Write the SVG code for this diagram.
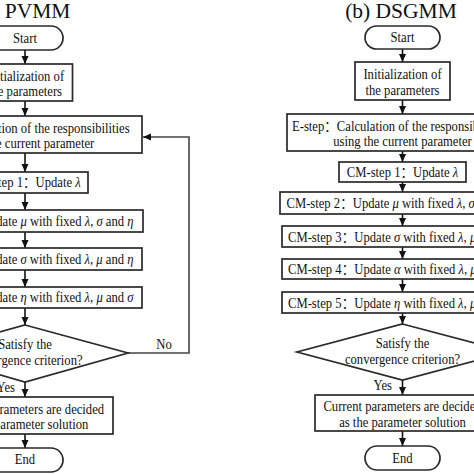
<svg xmlns="http://www.w3.org/2000/svg" width="474" height="474" viewBox="0 0 474 474">
<style>
.bg{fill:#ffffff}
.box{fill:#ffffff;stroke:#2a2a2a;stroke-width:1.7}
.t{font-family:"Liberation Serif","Noto Sans CJK SC",serif;font-size:14.2px;fill:#111;text-anchor:middle}
.title{font-family:"Liberation Serif",serif;font-size:21.5px;fill:#111;text-anchor:middle}
.i{font-style:italic}
.con{fill:none;stroke:#111;stroke-width:1.6}
.fb{fill:none;stroke:#444;stroke-width:1.6}
</style>
<defs>
<marker id="ah" markerUnits="userSpaceOnUse" markerWidth="8" markerHeight="8" viewBox="0 0 8 8" refX="8" refY="4" orient="auto">
<path d="M0,0.5 L8,4 L0,7.5 z" fill="#111"/>
</marker>
</defs>
<rect class="bg" x="0" y="0" width="474" height="474"/>

<g id="title-a"><text class="title" x="23" y="18">(a) PVMM</text></g>
<g id="title-b"><text class="title" x="401" y="18">(b) DSGMM</text></g>

<g id="connectors">
<line class="con" x1="25" y1="50" x2="25" y2="64" marker-end="url(#ah)"/>
<line class="con" x1="25" y1="101" x2="25" y2="116" marker-end="url(#ah)"/>
<line class="con" x1="25" y1="153" x2="25" y2="172" marker-end="url(#ah)"/>
<line class="con" x1="25" y1="193" x2="25" y2="210" marker-end="url(#ah)"/>
<line class="con" x1="25" y1="232" x2="25" y2="248" marker-end="url(#ah)"/>
<line class="con" x1="25" y1="270" x2="25" y2="287" marker-end="url(#ah)"/>
<line class="con" x1="25" y1="308" x2="25" y2="325" marker-end="url(#ah)"/>
<line class="con" x1="25" y1="382" x2="25" y2="397" marker-end="url(#ah)"/>
<line class="con" x1="25" y1="434" x2="25" y2="448" marker-end="url(#ah)"/>
<polyline class="fb" points="128,353 189,353 189,137 143,137" marker-end="url(#ah)"/>
<text class="t" transform="translate(164,349) scale(0.89,1)">No</text>
<text class="t" transform="translate(15,392) scale(0.89,1)" style="text-anchor:end">Yes</text>

<line class="con" x1="402.5" y1="49" x2="402.5" y2="62" marker-end="url(#ah)"/>
<line class="con" x1="402.5" y1="100" x2="402.5" y2="114" marker-end="url(#ah)"/>
<line class="con" x1="402.5" y1="151" x2="402.5" y2="162" marker-end="url(#ah)"/>
<line class="con" x1="402.5" y1="182" x2="402.5" y2="192" marker-end="url(#ah)"/>
<line class="con" x1="402.5" y1="214" x2="402.5" y2="226" marker-end="url(#ah)"/>
<line class="con" x1="402.5" y1="247" x2="402.5" y2="259" marker-end="url(#ah)"/>
<line class="con" x1="402.5" y1="279" x2="402.5" y2="292" marker-end="url(#ah)"/>
<line class="con" x1="402.5" y1="313" x2="402.5" y2="324" marker-end="url(#ah)"/>
<line class="con" x1="402.5" y1="380" x2="402.5" y2="395" marker-end="url(#ah)"/>
<line class="con" x1="402.5" y1="431" x2="402.5" y2="446" marker-end="url(#ah)"/>
<text class="t" transform="translate(392,390) scale(0.89,1)" style="text-anchor:end">Yes</text>
</g>

<!-- Left panel (a) -->
<g id="a-start"><rect class="box" x="-13" y="26" width="76" height="24" rx="12"/><text class="t" transform="translate(25,42.5) scale(0.89,1)">Start</text></g>
<g id="a-init"><rect class="box" x="-22.5" y="64" width="95" height="37"/>
<text class="t" transform="translate(25,80.5) scale(0.89,1)">Initialization of</text>
<text class="t" transform="translate(25,96.3) scale(0.89,1)">the parameters</text></g>
<g id="a-estep"><rect class="box" x="-92" y="116" width="234" height="37"/>
<text class="t" transform="translate(22,132.5) scale(0.89,1)">E-step：Calculation of the responsibilities</text>
<text class="t" transform="translate(25,148.3) scale(0.89,1)">using the current parameter</text></g>
<g id="a-cm1"><rect class="box" x="-38" y="172" width="126" height="21"/>
<text class="t" transform="translate(25,187) scale(0.89,1)">CM-step 1：Update <tspan class="i">λ</tspan></text></g>
<g id="a-cm2"><rect class="box" x="-93" y="210" width="236" height="22"/>
<text class="t" transform="translate(24,225.5) scale(0.89,1)">CM-step 2：Update <tspan class="i">μ</tspan> with fixed <tspan class="i">λ</tspan>, <tspan class="i">σ</tspan> and <tspan class="i">η</tspan></text></g>
<g id="a-cm3"><rect class="box" x="-92" y="248" width="234" height="22"/>
<text class="t" transform="translate(24,263.5) scale(0.89,1)">CM-step 3：Update <tspan class="i">σ</tspan> with fixed <tspan class="i">λ</tspan>, <tspan class="i">μ</tspan> and <tspan class="i">η</tspan></text></g>
<g id="a-cm4"><rect class="box" x="-92" y="287" width="234" height="21"/>
<text class="t" transform="translate(24,302) scale(0.89,1)">CM-step 4：Update <tspan class="i">η</tspan> with fixed <tspan class="i">λ</tspan>, <tspan class="i">μ</tspan> and <tspan class="i">σ</tspan></text></g>
<g id="a-decision"><polygon class="box" points="25,325 128,353 25,382 -78,353"/>
<text class="t" transform="translate(25,349) scale(0.89,1)">Satisfy the</text>
<text class="t" transform="translate(25,365) scale(0.89,1)">convergence criterion?</text></g>
<g id="a-result"><rect class="box" x="-63" y="397" width="176" height="37"/>
<text class="t" transform="translate(25,413.5) scale(0.89,1)">Current parameters are decided</text>
<text class="t" transform="translate(25,429.3) scale(0.89,1)">as the parameter solution</text></g>
<g id="a-end"><rect class="box" x="-13" y="448" width="76" height="24" rx="12"/><text class="t" transform="translate(25,464) scale(0.89,1)">End</text></g>

<!-- Right panel (b) -->
<g id="b-start"><rect class="box" x="365" y="26" width="75" height="23" rx="11.5"/><text class="t" transform="translate(402.5,42) scale(0.89,1)">Start</text></g>
<g id="b-init"><rect class="box" x="355" y="62" width="95" height="38"/>
<text class="t" transform="translate(402.5,79) scale(0.89,1)">Initialization of</text>
<text class="t" transform="translate(402.5,94.8) scale(0.89,1)">the parameters</text></g>
<g id="b-estep"><rect class="box" x="287" y="114" width="231" height="37"/>
<text class="t" transform="translate(399.5,130.5) scale(0.89,1)">E-step：Calculation of the responsibilities</text>
<text class="t" transform="translate(402.5,146.3) scale(0.89,1)">using the current parameter</text></g>
<g id="b-cm1"><rect class="box" x="339" y="162" width="127" height="20"/>
<text class="t" transform="translate(402.5,177) scale(0.89,1)">CM-step 1：Update <tspan class="i">λ</tspan></text></g>
<g id="b-cm2"><rect class="box" x="280" y="192" width="245" height="22"/>
<text class="t" transform="translate(402.5,208) scale(0.89,1)">CM-step 2：Update <tspan class="i">μ</tspan> with fixed <tspan class="i">λ</tspan>, <tspan class="i">σ</tspan>, <tspan class="i">α</tspan> and <tspan class="i">η</tspan></text></g>
<g id="b-cm3"><rect class="box" x="282" y="226" width="241" height="21"/>
<text class="t" transform="translate(404,241.5) scale(0.89,1)">CM-step 3：Update <tspan class="i">σ</tspan> with fixed <tspan class="i">λ</tspan>, <tspan class="i">μ</tspan>, <tspan class="i">α</tspan> and <tspan class="i">η</tspan></text></g>
<g id="b-cm4"><rect class="box" x="282" y="259" width="241" height="20"/>
<text class="t" transform="translate(404,274) scale(0.89,1)">CM-step 4：Update <tspan class="i">α</tspan> with fixed <tspan class="i">λ</tspan>, <tspan class="i">μ</tspan>, <tspan class="i">σ</tspan> and <tspan class="i">η</tspan></text></g>
<g id="b-cm5"><rect class="box" x="282" y="292" width="241" height="21"/>
<text class="t" transform="translate(404,307.5) scale(0.89,1)">CM-step 5：Update <tspan class="i">η</tspan> with fixed <tspan class="i">λ</tspan>, <tspan class="i">μ</tspan>, <tspan class="i">σ</tspan> and <tspan class="i">α</tspan></text></g>
<g id="b-decision"><polygon class="box" points="402.5,324 508,352 402.5,380 297,352"/>
<text class="t" transform="translate(402.5,348) scale(0.89,1)">Satisfy the</text>
<text class="t" transform="translate(402.5,364) scale(0.89,1)">convergence criterion?</text></g>
<g id="b-result"><rect class="box" x="315" y="395" width="175" height="36"/>
<text class="t" transform="translate(402.5,411) scale(0.89,1)">Current parameters are decided</text>
<text class="t" transform="translate(402.5,426.8) scale(0.89,1)">as the parameter solution</text></g>
<g id="b-end"><rect class="box" x="365" y="446" width="75" height="24" rx="12"/><text class="t" transform="translate(402.5,462.5) scale(0.89,1)">End</text></g>
</svg>
